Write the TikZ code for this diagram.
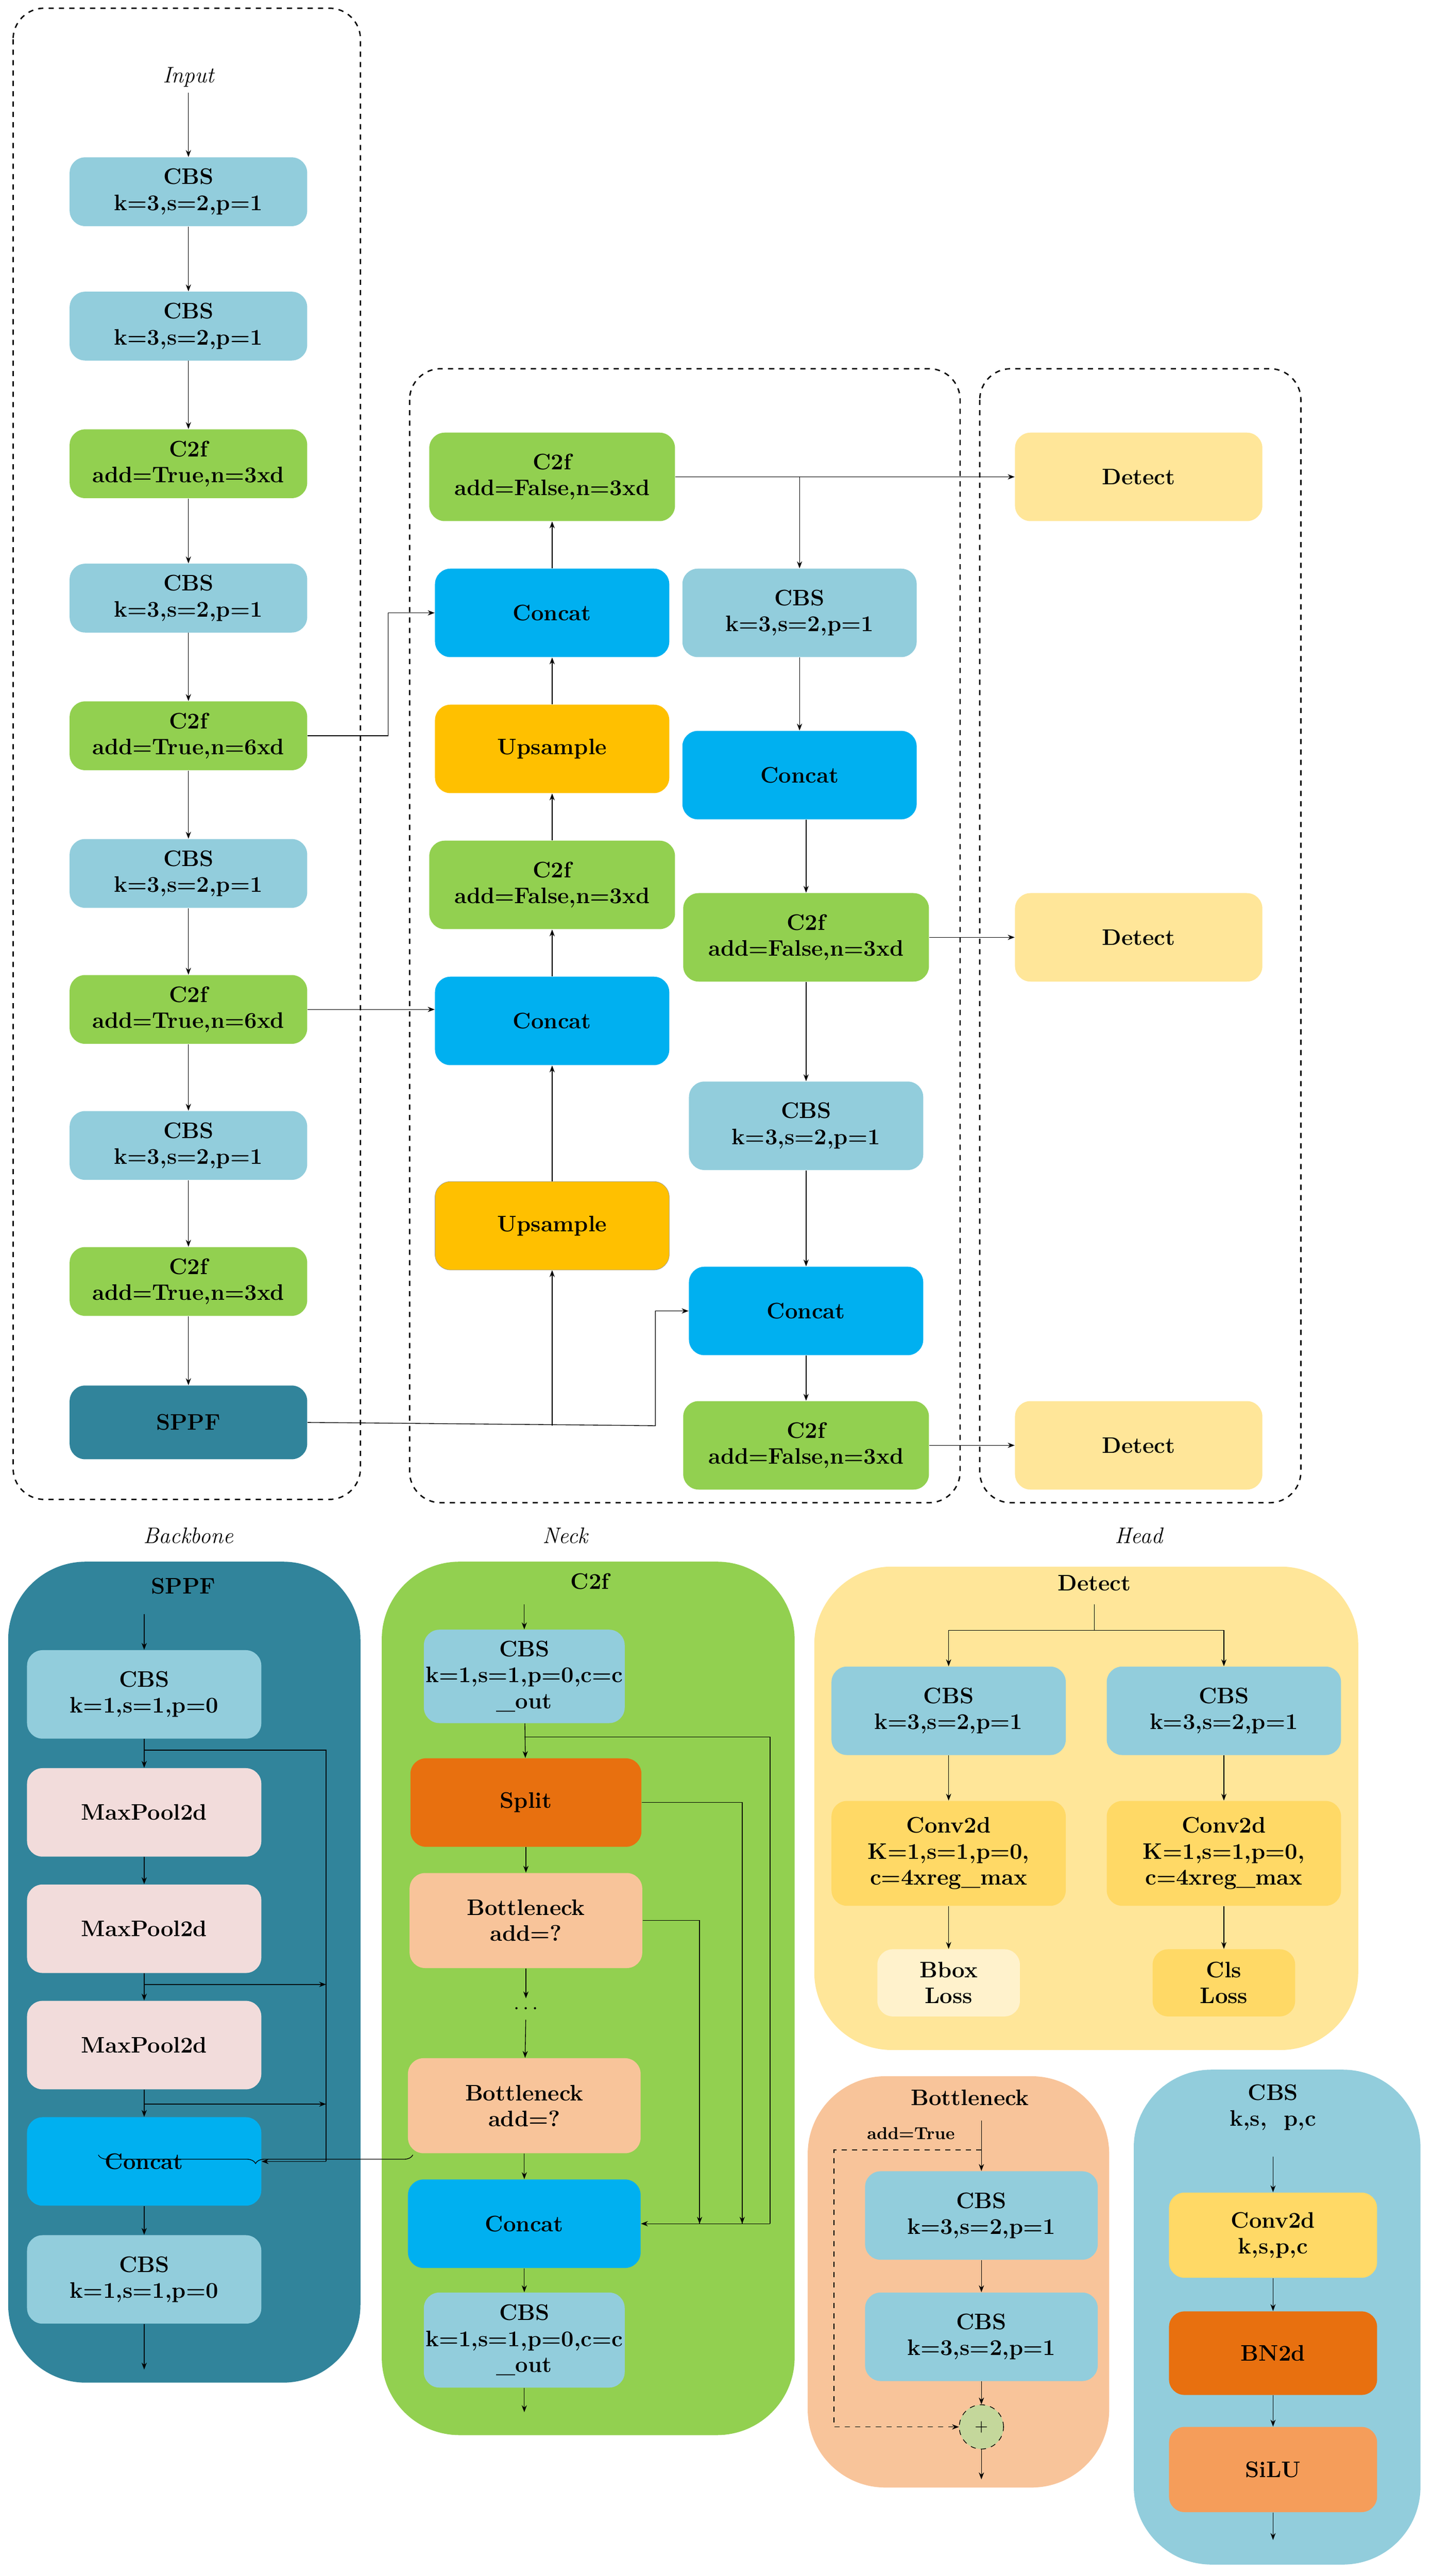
\documentclass[tikz,border=0pt]{standalone}
\usepackage{tikz}
\usetikzlibrary{arrows.meta,decorations.pathreplacing}
\newdimen\px \px=0.033333cm
\definecolor{cbsc}{HTML}{92CDDC}
\definecolor{cfc}{HTML}{92D050}
\definecolor{catc}{HTML}{00B0F0}
\definecolor{upc}{HTML}{FFC000}
\definecolor{sppfc}{HTML}{31849B}
\definecolor{detc}{HTML}{FFE699}
\definecolor{mpc}{HTML}{F2DCDB}
\definecolor{splc}{HTML}{E8700F}
\definecolor{btlc}{HTML}{F8C49A}
\definecolor{convc}{HTML}{FFD966}
\definecolor{siluc}{HTML}{F59D5A}
\definecolor{bboxc}{HTML}{FFF2CC}
\definecolor{addc}{HTML}{C4D79B}
\tikzset{
  blk/.style={rounded corners=9pt, align=center, inner sep=1pt,
    font=\fontsize{13}{15}\selectfont\bfseries},
  bb/.style={blk, minimum width=145\px, minimum height=42\px},
  nk/.style={blk, minimum width=143\px, minimum height=54\px},
  sm/.style={blk, minimum width=143\px, minimum height=54\px},
  pan/.style={rounded corners=45pt},
  grp/.style={draw, dashed, rounded corners=18pt, thick},
  lbl/.style={font=\fontsize{13}{15}\selectfont\itshape},
  ttl/.style={font=\fontsize{13}{15}\selectfont\bfseries, align=center},
  arr/.style={-{Stealth[length=4pt]}, thin},
}
\begin{document}
\begin{tikzpicture}[x=\px, y=-\px]
\useasboundingbox (0,0) rectangle (874,1572);

% backbone
\draw[grp] (8,5) rectangle (220,915);
\node[lbl] (inp) at (115,47) {Input};
\node[bb, fill=cbsc] (b1) at (115,117) {CBS\\k=3,s=2,p=1};
\node[bb, fill=cbsc] (b2) at (115,199) {CBS\\k=3,s=2,p=1};
\node[bb, fill=cfc] (b3) at (115,283) {C2f\\add=True,n=3xd};
\node[bb, fill=cbsc] (b4) at (115,365) {CBS\\k=3,s=2,p=1};
\node[bb, fill=cfc] (b5) at (115,449) {C2f\\add=True,n=6xd};
\node[bb, fill=cbsc] (b6) at (115,533) {CBS\\k=3,s=2,p=1};
\node[bb, fill=cfc] (b7) at (115,616) {C2f\\add=True,n=6xd};
\node[bb, fill=cbsc] (b8) at (115,699) {CBS\\k=3,s=2,p=1};
\node[bb, fill=cfc] (b9) at (115,782) {C2f\\add=True,n=3xd};
\node[bb, fill=sppfc, minimum height=45\px] (b10) at (115,868) {SPPF};
\node[lbl] (lbb) at (115,937) {Backbone};
\draw[arr] (inp) -- (b1);
\foreach \a/\b in {b1/b2,b2/b3,b3/b4,b4/b5,b5/b6,b6/b7,b7/b8,b8/b9,b9/b10}
  \draw[arr] (\a) -- (\b);

% neck
\draw[grp] (250,225) rectangle (586,917);
\node[lbl] (lnk) at (345,937) {Neck};
\node[nk, fill=cfc, minimum width=150\px] (n1) at (337,291) {C2f\\add=False,n=3xd};
\node[nk, fill=catc] (n2) at (337,374) {Concat};
\node[nk, fill=upc] (n3) at (337,457) {Upsample};
\node[nk, fill=cfc, minimum width=150\px] (n4) at (337,540) {C2f\\add=False,n=3xd};
\node[nk, fill=catc] (n5) at (337,623) {Concat};
\node[nk, fill=upc, draw=black!40, very thin] (n6) at (337,748) {Upsample};
\node[nk, fill=cbsc] (m1) at (488,374) {CBS\\k=3,s=2,p=1};
\node[nk, fill=catc] (m2) at (488,473) {Concat};
\node[nk, fill=cfc, minimum width=150\px] (m3) at (492,572) {C2f\\add=False,n=3xd};
\node[nk, fill=cbsc] (m4) at (492,687) {CBS\\k=3,s=2,p=1};
\node[nk, fill=catc] (m5) at (492,800) {Concat};
\node[nk, fill=cfc, minimum width=150\px] (m6) at (492,882) {C2f\\add=False,n=3xd};

% head
\draw[grp] (598,225) rectangle (794,917);
\node[lbl] (lhd) at (695,937) {Head};
\node[nk, fill=detc, minimum width=151\px] (h1) at (695,291) {Detect};
\node[nk, fill=detc, minimum width=151\px] (h2) at (695,572) {Detect};
\node[nk, fill=detc, minimum width=151\px] (h3) at (695,882) {Detect};

\coordinate (j1) at (488,291);
\coordinate (j2) at (337,870);
\draw[arr] (b5.east) -- (237,449) -- (237,374) -- (n2.west);
\draw[arr] (b7.east) -- (n5.west |- b7.east);
\draw[arr] (b10.east) -- (400,870) -- (400,800) -- (m5.west);
\draw[arr] (j2) -- (n6);
\foreach \a/\b in {n6/n5,n5/n4,n4/n3,n3/n2,n2/n1}
  \draw[arr] (\a) -- (\b);
\draw[arr] (n1.east) -- (h1.west);
\draw[arr] (j1) -- (m1);
\foreach \a/\b in {m1/m2,m3/m4,m4/m5,m5/m6}
  \draw[arr] (\a) -- (\a |- \b.north);
\draw[arr] (m2.south -| m3) -- (m3);
\draw[arr] (m3.east) -- (h2.west);
\draw[arr] (m6.east) -- (h3.west);

% SPPF panel
\fill[sppfc, pan] (5,953) rectangle (220,1454);
\node[ttl] (ts) at (112,968) {SPPF};
\node[sm, fill=cbsc] (s1) at (88,1034) {CBS\\k=1,s=1,p=0};
\node[sm, fill=mpc] (s2) at (88,1106) {MaxPool2d};
\node[sm, fill=mpc] (s3) at (88,1177) {MaxPool2d};
\node[sm, fill=mpc] (s4) at (88,1248) {MaxPool2d};
\node[sm, fill=catc] (s5) at (88,1319) {Concat};
\node[sm, fill=cbsc] (s6) at (88,1391) {CBS\\k=1,s=1,p=0};
\coordinate (so) at (88,1446);
\draw[arr] (88,985) -- (s1);
\foreach \a/\b in {s1/s2,s2/s3,s3/s4,s4/s5,s5/s6}
  \draw[arr] (\a) -- (\b);
\draw[arr] (s6) -- (so);
\draw (88,1068) -- (199,1068) -- (199,1319);
\draw[arr] (199,1319) -- (s5.east);
\draw[arr] (88,1211) -- (199,1211);
\draw[arr] (88,1284) -- (199,1284);

% C2f panel
\fill[cfc, pan] (233,953) rectangle (485,1486);
\node[ttl] (tc) at (360,965) {C2f};
\node[blk, fill=cbsc, minimum width=118\px, minimum height=57\px] (c1) at (320,1023) {CBS\\k=1,s=1,p=0,c=c\\\_out};
\node[sm, fill=splc, minimum width=141\px] (c2) at (321,1100) {Split};
\node[sm, fill=btlc, minimum width=142\px, minimum height=58\px] (c3) at (321,1172) {Bottleneck\\add=?};
\node[ttl] (dots) at (321,1226) {$\cdots$};
\node[sm, fill=btlc, minimum width=142\px, minimum height=58\px] (c4) at (320,1285) {Bottleneck\\add=?};
\node[sm, fill=catc, minimum width=142\px] (c5) at (320,1357) {Concat};
\node[blk, fill=cbsc, minimum width=118\px, minimum height=58\px] (c6) at (320,1428) {CBS\\k=1,s=1,p=0,c=c\\\_out};
\coordinate (co) at (320,1472);
\draw[arr] (320,979) -- (c1);
\foreach \a/\b in {c1/c2,c2/c3,c4/c5,c5/c6}
  \draw[arr] (\a) -- (\b);
\draw[arr] (c3) -- (dots);
\draw[arr] (dots) -- (c4);
\draw[arr] (c6) -- (co);
\draw[decorate, decoration={brace, amplitude=5pt}] (252,1315) -- (242,1315) -- (242,1143) -- (252,1143);
\draw (320,1060) -- (470,1060) -- (470,1357);
\draw (c2.east) -- (453,1100) -- (453,1357);
\draw (c3.east) -- (427,1172) -- (427,1357);
\draw[arr] (470,1357) -- (c5.east);
\draw[arr] (453,1340) -- (453,1357);
\draw[arr] (427,1340) -- (427,1357);

% Detect panel
\fill[detc, pan] (497,956) rectangle (829,1251);
\node[ttl] (td) at (668,966) {Detect};
\node[sm, fill=cbsc, minimum width=143\px] (d1) at (579,1044) {CBS\\k=3,s=2,p=1};
\node[sm, fill=cbsc, minimum width=143\px] (d2) at (747,1044) {CBS\\k=3,s=2,p=1};
\node[sm, fill=convc, minimum width=143\px, minimum height=64\px] (d3) at (579,1131) {Conv2d\\K=1,s=1,p=0,\\c=4xreg\_max};
\node[sm, fill=convc, minimum width=143\px, minimum height=64\px] (d4) at (747,1131) {Conv2d\\K=1,s=1,p=0,\\c=4xreg\_max};
\node[sm, fill=bboxc, minimum width=87\px, minimum height=41\px] (d5) at (579,1210) {Bbox\\Loss};
\node[sm, fill=convc, minimum width=87\px, minimum height=41\px] (d6) at (747,1210) {Cls\\Loss};
\draw (668,979) -- (668,995);
\draw[arr] (668,995) -- (579,995) -- (d1);
\draw[arr] (668,995) -- (747,995) -- (d2);
\foreach \a/\b in {d1/d3,d2/d4,d3/d5,d4/d6}
  \draw[arr] (\a) -- (\b);

% Bottleneck panel
\fill[btlc, pan] (493,1267) rectangle (677,1518);
\node[ttl] (tb) at (592,1280) {Bottleneck};
\node[font=\fontsize{10}{12}\selectfont\bfseries] (at) at (556,1302) {add=True};
\node[sm, fill=cbsc, minimum width=142\px] (k1) at (599,1352) {CBS\\k=3,s=2,p=1};
\node[sm, fill=cbsc, minimum width=142\px] (k2) at (599,1426) {CBS\\k=3,s=2,p=1};
\node[circle, draw, dashed, fill=addc, minimum size=27\px, inner sep=0pt] (pl) at (599,1481) {+};
\coordinate (ko) at (599,1513);
\draw[arr] (599,1294) -- (k1);
\draw[arr] (k1) -- (k2);
\draw[arr] (k2) -- (pl);
\draw[arr] (pl) -- (ko);
\draw[dashed, arr] (599,1312) -- (509,1312) -- (509,1481) -- (pl.west);

% CBS panel
\fill[cbsc, pan] (692,1263) rectangle (867,1565);
\node[ttl] (tk) at (777,1286) {CBS\\k,s,\ \ p,c};
\node[sm, fill=convc, minimum width=127\px, minimum height=52\px] (e1) at (777,1364) {Conv2d\\k,s,p,c};
\node[sm, fill=splc, minimum width=127\px, minimum height=51\px] (e2) at (777,1436) {BN2d};
\node[sm, fill=siluc, minimum width=127\px, minimum height=52\px] (e3) at (777,1507) {SiLU};
\coordinate (eo) at (777,1550);
\draw[arr] (777,1316) -- (e1);
\draw[arr] (e1) -- (e2);
\draw[arr] (e2) -- (e3);
\draw[arr] (e3) -- (eo);
\end{tikzpicture}
\end{document}
